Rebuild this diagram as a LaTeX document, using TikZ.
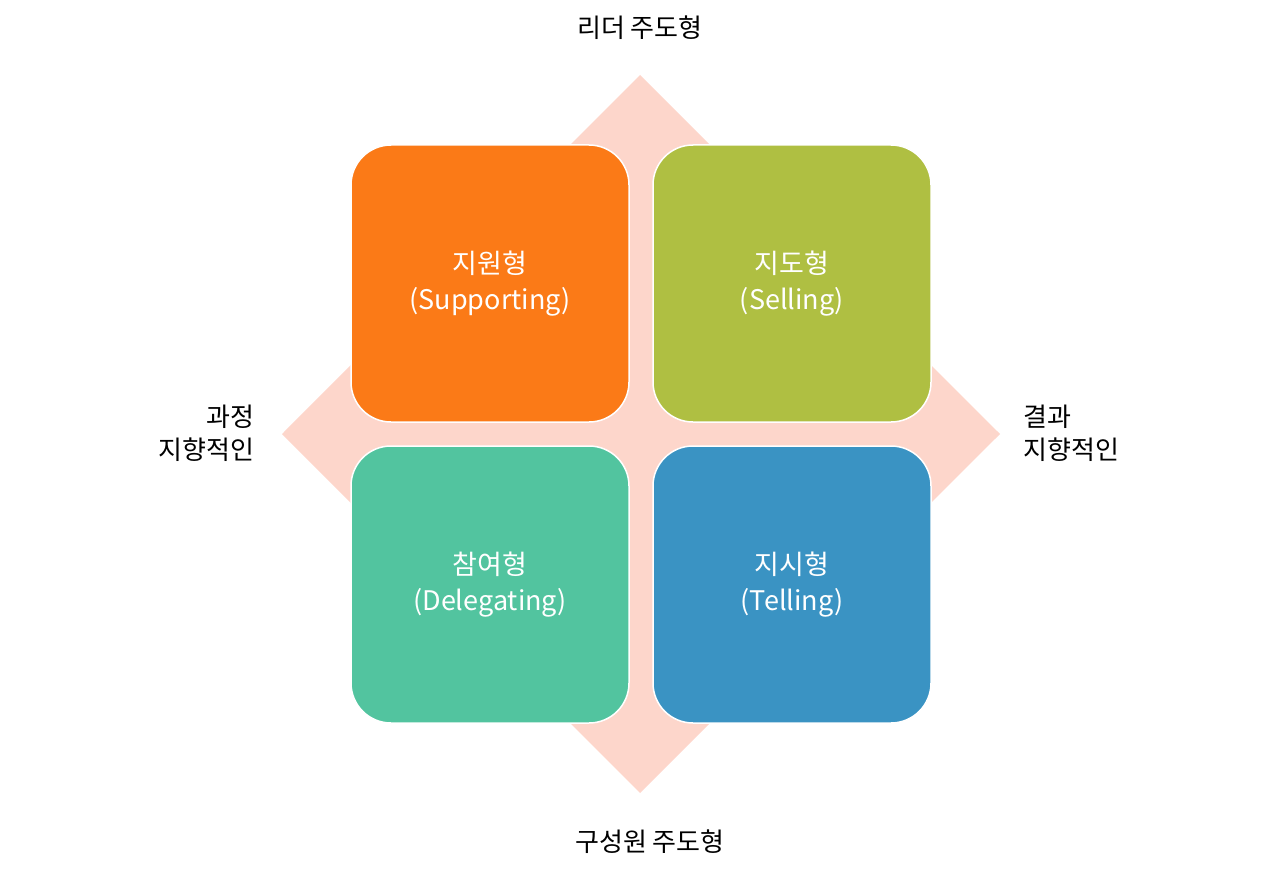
\documentclass[tikz,border=0pt]{standalone}
\usepackage{fontspec}
\setmainfont{Noto Sans CJK KR}
\begin{document}
\begin{tikzpicture}[x=1pt,y=-1pt,
  quad/.style={draw=white,line width=1.5pt,rounded corners=40pt,minimum width=278pt,minimum height=277pt,inner sep=0pt,text=white,font=\fontsize{27}{36}\selectfont,align=center},
  lab/.style={text=black,font=\fontsize{26}{33}\selectfont,align=center}]
\useasboundingbox (0,0) rectangle (1280,880);
\fill[fill={rgb,255:red,253;green,214;blue,203}] (640,75) -- (1000,434) -- (640,793) -- (282,434) -- cycle;
\node[quad,fill={rgb,255:red,251;green,122;blue,23}] (sup) at (490,283.5) {지원형\\(Supporting)};
\node[quad,fill={rgb,255:red,175;green,191;blue,66}] (sel) at (792,283.5) {지도형\\(Selling)};
\node[quad,fill={rgb,255:red,82;green,196;blue,159}] (del) at (490,584.5) {참여형\\(Delegating)};
\node[quad,fill={rgb,255:red,58;green,147;blue,195}] (tel) at (792,584.5) {지시형\\(Telling)};
\node[lab] (top) at (640,28) {리더 주도형};
\node[lab] (bot) at (650,842) {구성원 주도형};
\node[lab,align=right,anchor=east] (left) at (258,433) {과정\\지향적인};
\node[lab,align=left,anchor=west] (right) at (1020,433) {결과\\지향적인};
\end{tikzpicture}
\end{document}
